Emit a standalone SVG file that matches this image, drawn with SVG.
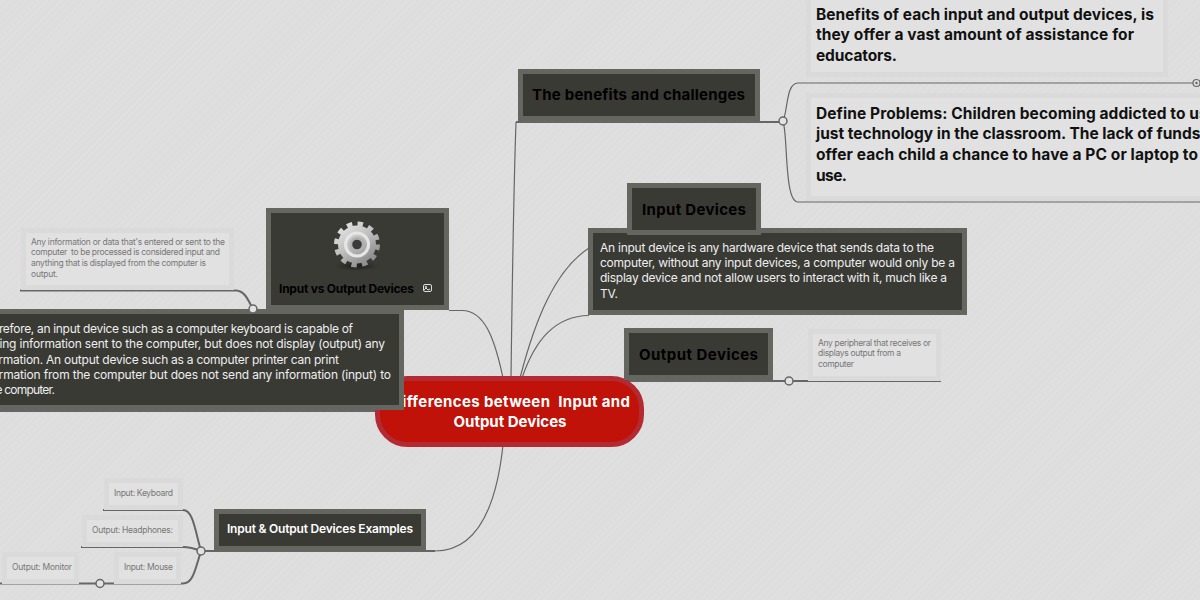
<svg xmlns="http://www.w3.org/2000/svg" width="1200" height="600" viewBox="0 0 1200 600">
<style>
text{font-family:"Inter","Open Sans","Liberation Sans",sans-serif;white-space:pre}
.dark{fill:#3a3a35;stroke:#666660;stroke-width:5}
.light{fill:#e1e1e1;stroke:#dadada;stroke-width:5}
.c{fill:none;stroke:#666;stroke-width:1.2}
.u{fill:none;stroke:#666;stroke-width:2}
.dot{fill:#e2e2e2;stroke:#666;stroke-width:1.5}
.h{font-weight:700;fill:#000}
.b{font-weight:400;fill:#eee;font-size:12px}
.n{font-weight:400;fill:#777;font-size:8.500px}
.m{font-weight:700;fill:#000;font-size:15px}
</style>
<defs>
<pattern id="bg" width="5" height="5" patternUnits="userSpaceOnUse" patternTransform="rotate(-45)"><rect width="5" height="5" fill="#dfdfdf"/><rect width="5" height="2.500" fill="#dddddd"/></pattern>
<linearGradient id="gear" x1="0" y1="0" x2="0.700" y2="1"><stop offset="0" stop-color="#e8e8e8"/><stop offset="0.550" stop-color="#bcbcbc"/><stop offset="1" stop-color="#8c8c8c"/></linearGradient>
<radialGradient id="shadow"><stop offset="0" stop-color="#111" stop-opacity="0.700"/><stop offset="1" stop-color="#111" stop-opacity="0"/></radialGradient>
</defs>
<rect width="1200" height="600" fill="url(#bg)"/>
<g id="connectors">
<path class="c" d="M449 310.500H462C485 310.500 495 340 503 378"/>
<path class="c" d="M511 378C512 300 514 180 516 122"/>
<path class="c" d="M520 378C535 320 555 270 589 248"/>
<path class="c" d="M522 378C535 340 555 316 589 315.500"/>
<path class="c" d="M503 445C495 520 470 551 435 551"/>
<path class="u" d="M516 122H783"/>
<path class="c" d="M783 121C788 110 786 83 798 83H1196"/>
<path class="c" d="M783 121C788 135 784 202 798 202H1200"/>
<path class="u" d="M624 381H941"/>
<path class="u" d="M20 290.500H236C245 291 248 300 253 309"/>
<path class="u" d="M205 551H435"/>
<path class="u" d="M103 510H183C193 510 195 530 201 551"/>
<path class="u" d="M81 547H183C190 547 196 549 201 551"/>
<path class="u" d="M0 583.500H183C193 583.500 195 570 201 551"/>
<path class="u" d="M-5 411H404"/>
</g>
<g id="root"><rect x="377.500" y="378.500" width="264" height="66" rx="30" fill="#c01208" stroke="#b32a33" stroke-width="5"/>
<text x="391" y="407" font-size="15" font-weight="700" fill="#fff" textLength="239">Differences between  Input and</text>
<text x="510" y="427" font-size="15" font-weight="700" fill="#fff" text-anchor="middle">Output Devices</text></g>
<g id="node-vs"><rect class="dark" x="268.500" y="210.500" width="178" height="97"/>
<g id="gear-icon"><ellipse cx="357" cy="266" rx="22" ry="5" fill="url(#shadow)"/><circle cx="357" cy="244.500" r="19" fill="url(#gear)"/><circle cx="357" cy="244.500" r="20.500" fill="none" stroke="url(#gear)" stroke-width="5" stroke-dasharray="5.400 5.330"/><circle cx="357" cy="244.500" r="11.500" fill="none" stroke="#e6e6e6" stroke-width="3"/><circle cx="357" cy="244.500" r="7.500" fill="#b0b0b0"/><circle cx="357" cy="244.500" r="4.800" fill="#3a3a38"/></g>
<text class="h" x="279" y="292.500" font-size="12" textLength="135">Input vs Output Devices</text>
<g id="img-icon" fill="none" stroke="#ddd"><rect x="423.500" y="284.500" width="8" height="7" rx="1.500"/><path d="M424 290l2-2 2 2 2-1"/><circle cx="426" cy="287" r="0.800"/></g></g>
<g id="node-note1"><rect class="light" x="23.500" y="230.500" width="208" height="57"/>
<text class="n"><tspan x="31" y="245" textLength="194">Any information or data that's entered or sent to the</tspan><tspan x="31" y="255" textLength="189">computer  to be processed is considered input and</tspan><tspan x="31" y="266" textLength="175">anything that is displayed from the computer is</tspan><tspan x="31" y="277" textLength="27">output.</tspan></text></g>
<g id="node-therefore"><rect class="dark" x="-10" y="311.500" width="411.500" height="96"/>
<text class="b"><tspan x="-22" y="333" textLength="375">Therefore, an input device such as a computer keyboard is capable of</tspan><tspan x="-38" y="348" textLength="423">accepting information sent to the computer, but does not display (output) any</tspan><tspan x="-22" y="364" textLength="361">information. An output device such as a computer printer can print</tspan><tspan x="-22" y="379" textLength="413">information from the computer but does not send any information (input) to</tspan><tspan x="-14" y="394" textLength="69">the computer.</tspan></text></g>
<g id="node-examples"><rect class="dark" x="216.500" y="511.500" width="207" height="37"/>
<text x="227" y="533" font-size="12" font-weight="600" fill="#fff" textLength="186">Input &amp; Output Devices Examples</text></g>
<g id="node-keyboard"><rect class="light" x="106.500" y="480.500" width="74" height="27"/><text class="n" x="114" y="496" textLength="59">Input: Keyboard</text></g>
<g id="node-headphones"><rect class="light" x="84.500" y="517.500" width="96" height="27"/><text class="n" x="92" y="533" textLength="81">Output: Headphones:</text></g>
<g id="node-mouse"><rect class="light" x="116.500" y="554.500" width="62" height="27"/><text class="n" x="124" y="570" textLength="49">Input: Mouse</text></g>
<g id="node-monitor"><rect class="light" x="4.500" y="554.500" width="72" height="27"/><text class="n" x="12" y="570" textLength="60">Output: Monitor</text></g>
<circle class="dot" cx="201" cy="551" r="4"/><circle class="dot" cx="100" cy="583.500" r="4"/><circle class="dot" cx="253" cy="309" r="4"/>
<g id="node-benefits"><rect class="dark" x="520.500" y="71.500" width="237" height="47"/><text class="m" x="532" y="100" textLength="213">The benefits and challenges</text></g>
<g id="node-ben1"><rect class="light" x="808.500" y="-10" width="357" height="84.500"/>
<text font-size="15.500" font-weight="700" fill="#111"><tspan x="816" y="20" textLength="338">Benefits of each input and output devices, is</tspan><tspan x="816" y="40" textLength="318">they offer a vast amount of assistance for</tspan><tspan x="816" y="61" textLength="81">educators.</tspan></text></g>
<g id="node-ben2"><rect class="light" x="808.500" y="95.500" width="400" height="103"/>
<text font-size="15.500" font-weight="700" fill="#111"><tspan x="816" y="119" textLength="401">Define Problems: Children becoming addicted to use</tspan><tspan x="816" y="139" textLength="403">just technology in the classroom. The lack of funds to</tspan><tspan x="816" y="160" textLength="382">offer each child a chance to have a PC or laptop to</tspan><tspan x="816" y="181" textLength="31">use.</tspan></text></g>
<circle class="dot" cx="783" cy="121" r="4"/>
<circle cx="1196.500" cy="83" r="3.500" fill="#ddd" stroke="#666" stroke-width="1.200"/><circle cx="1196.500" cy="83" r="1.200" fill="#666"/>
<g id="node-inputdesc"><rect class="dark" x="590.500" y="230.500" width="374" height="82"/>
<text class="b"><tspan x="600" y="252" textLength="334">An input device is any hardware device that sends data to the</tspan><tspan x="600" y="267" textLength="355">computer, without any input devices, a computer would only be a</tspan><tspan x="600" y="282" textLength="347">display device and not allow users to interact with it, much like a</tspan><tspan x="600" y="298" textLength="18">TV.</tspan></text></g>
<g id="node-input"><rect class="dark" x="629.500" y="185.500" width="129" height="47"/><text class="m" x="642" y="214.500" textLength="104">Input Devices</text></g>
<g id="node-output"><rect class="dark" x="626.500" y="330.500" width="144" height="47"/><text class="m" x="639" y="359.500" textLength="119">Output Devices</text></g>
<g id="node-outnote"><rect class="light" x="810.500" y="331.500" width="128" height="47"/>
<text class="n"><tspan x="818" y="346" textLength="113">Any peripheral that receives or</tspan><tspan x="818" y="356" textLength="83">displays output from a</tspan><tspan x="818" y="367" textLength="36">computer</tspan></text></g>
<circle class="dot" cx="789" cy="381" r="4"/>
</svg>
